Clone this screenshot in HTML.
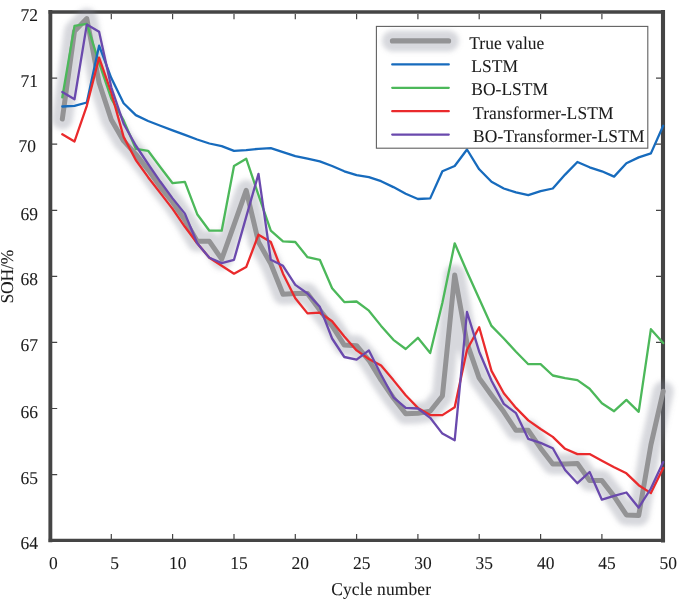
<!DOCTYPE html>
<html><head><meta charset="utf-8"><title>SOH prediction</title>
<style>html,body{margin:0;padding:0;background:#fff}svg{display:block}</style></head>
<body>
<svg width="685" height="599" viewBox="0 0 685 599" text-rendering="geometricPrecision">
<defs><filter id="glow" filterUnits="userSpaceOnUse" x="0" y="0" width="685" height="599"><feGaussianBlur stdDeviation="2.9"/></filter></defs>
<rect width="685" height="599" fill="#fff"/>
<g stroke="#454545" stroke-linecap="square" fill="none"><line x1="50.35" y1="12.0" x2="50.35" y2="540.4" stroke-width="3.9"/><line x1="663" y1="12.0" x2="663" y2="540.4" stroke-width="4.1"/><line x1="50.35" y1="12.0" x2="663" y2="12.0" stroke-width="3.5"/><line x1="50.35" y1="540.4" x2="663" y2="540.4" stroke-width="3.3"/></g>
<path d="M111.3,539 V533.9 M111.3,14 V19.3 M172.6,539 V533.9 M172.6,14 V19.3 M234.0,539 V533.9 M234.0,14 V19.3 M295.3,539 V533.9 M295.3,14 V19.3 M356.6,539 V533.9 M356.6,14 V19.3 M417.9,539 V533.9 M417.9,14 V19.3 M479.2,539 V533.9 M479.2,14 V19.3 M540.6,539 V533.9 M540.6,14 V19.3 M601.9,539 V533.9 M601.9,14 V19.3 M52,474.6 H57.2 M52,408.5 H57.2 M52,342.4 H57.2 M661,342.4 H656 M52,276.4 H57.2 M661,276.4 H656 M52,210.3 H57.2 M661,210.3 H656 M52,144.2 H57.2 M661,144.2 H656 M52,78.1 H57.2 M661,78.1 H656" stroke="#454545" stroke-width="1.2" fill="none"/>
<g font-family="'Liberation Serif', serif" font-size="18px" fill="#1a1a1a" stroke="#1a1a1a" stroke-width="0.08">
<text transform="translate(49.0,568.5) scale(0.97,1)">0</text>
<text transform="translate(110.3,568.5) scale(0.97,1)">5</text>
<text transform="translate(168.9,568.5) scale(0.97,1)">10</text>
<text transform="translate(230.3,568.5) scale(0.97,1)">15</text>
<text transform="translate(291.6,568.5) scale(0.97,1)">20</text>
<text transform="translate(352.9,568.5) scale(0.97,1)">25</text>
<text transform="translate(414.2,568.5) scale(0.97,1)">30</text>
<text transform="translate(475.5,568.5) scale(0.97,1)">35</text>
<text transform="translate(536.9,568.5) scale(0.97,1)">40</text>
<text transform="translate(598.2,568.5) scale(0.97,1)">45</text>
<text transform="translate(659.5,568.5) scale(0.97,1)">50</text>
<text transform="translate(20.6,549.3) scale(0.97,1)">64</text>
<text transform="translate(20.6,483.8) scale(0.97,1)">65</text>
<text transform="translate(20.6,417.5) scale(0.97,1)">66</text>
<text transform="translate(20.6,350.8) scale(0.97,1)">67</text>
<text transform="translate(20.6,285.1) scale(0.97,1)">68</text>
<text transform="translate(20.6,219.6) scale(0.97,1)">69</text>
<text transform="translate(18.6,152.1) scale(0.97,1)">70</text>
<text transform="translate(20.6,87.3) scale(0.97,1)">71</text>
<text transform="translate(20.6,20.9) scale(0.97,1)">72</text>
<text transform="translate(331.2,595.4) scale(0.97,1)" textLength="102.9" lengthAdjust="spacing">Cycle number</text>
<text transform="translate(12.8,303.6) rotate(-90) scale(0.97,1)" textLength="55.7" lengthAdjust="spacing">SOH/%</text>
</g>
<polyline points="62.3,119.1 74.5,31.2 86.8,18.6 99.1,82.7 111.3,119.7 123.6,140.9 135.8,154.1 148.1,169.9 160.4,187.1 172.6,202.3 184.9,220.2 197.2,241.3 209.4,241.3 221.7,259.2 234.0,224.8 246.2,190.4 258.5,242.0 270.8,263.8 283.0,294.2 295.3,293.5 307.5,293.5 319.8,310.1 332.1,325.9 344.3,345.1 356.6,345.7 368.9,360.3 381.1,380.1 393.4,398.0 405.7,413.8 417.9,413.2 430.2,411.2 442.4,396.0 454.7,275.0 467.0,343.1 479.2,378.1 491.5,395.3 503.8,411.8 516.0,430.3 528.3,430.3 540.6,448.2 552.8,464.0 565.1,464.0 577.4,463.4 589.6,480.6 601.9,480.6 614.1,496.4 626.4,514.9 638.7,515.6 650.9,444.9 663.2,391.3" fill="none" stroke="#7f8290" stroke-opacity="0.31" stroke-width="21" stroke-linejoin="round" stroke-linecap="round" filter="url(#glow)"/>
<polyline points="62.3,119.1 74.5,31.2 86.8,18.6 99.1,82.7 111.3,119.7 123.6,140.9 135.8,154.1 148.1,169.9 160.4,187.1 172.6,202.3 184.9,220.2 197.2,241.3 209.4,241.3 221.7,259.2 234.0,224.8 246.2,190.4 258.5,242.0 270.8,263.8 283.0,294.2 295.3,293.5 307.5,293.5 319.8,310.1 332.1,325.9 344.3,345.1 356.6,345.7 368.9,360.3 381.1,380.1 393.4,398.0 405.7,413.8 417.9,413.2 430.2,411.2 442.4,396.0 454.7,275.0 467.0,343.1 479.2,378.1 491.5,395.3 503.8,411.8 516.0,430.3 528.3,430.3 540.6,448.2 552.8,464.0 565.1,464.0 577.4,463.4 589.6,480.6 601.9,480.6 614.1,496.4 626.4,514.9 638.7,515.6 650.9,444.9 663.2,391.3" fill="none" stroke="#939395" stroke-width="5.0" stroke-linejoin="round" stroke-linecap="round"/>
<polyline points="62.3,97.3 74.5,25.9 86.8,23.9 99.1,62.9 111.3,98.6 123.6,120.4 135.8,148.8 148.1,150.8 160.4,167.3 172.6,183.2 184.9,181.8 197.2,214.2 209.4,230.7 221.7,230.7 234.0,166.0 246.2,158.7 258.5,195.1 270.8,230.7 283.0,241.3 295.3,242.0 307.5,257.2 319.8,259.8 332.1,288.2 344.3,302.1 356.6,301.5 368.9,310.7 381.1,325.9 393.4,339.8 405.7,349.0 417.9,337.8 430.2,353.0 442.4,302.8 454.7,243.3 467.0,271.7 479.2,298.8 491.5,325.9 503.8,338.5 516.0,351.7 528.3,364.2 540.6,364.2 552.8,375.5 565.1,378.1 577.4,380.1 589.6,388.7 601.9,403.2 614.1,411.2 626.4,399.9 638.7,411.8 650.9,329.2 663.2,343.1" fill="none" stroke="#4cb85a" stroke-width="2.3" stroke-linejoin="round" stroke-linecap="round"/>
<polyline points="62.3,106.5 74.5,105.8 86.8,102.5 99.1,45.7 111.3,78.1 123.6,103.2 135.8,115.1 148.1,121.0 160.4,125.7 172.6,130.3 184.9,134.9 197.2,139.5 209.4,143.5 221.7,146.2 234.0,150.8 246.2,150.1 258.5,148.8 270.8,148.1 283.0,152.1 295.3,156.1 307.5,158.7 319.8,161.4 332.1,166.0 344.3,171.3 356.6,175.2 368.9,177.2 381.1,181.2 393.4,187.1 405.7,193.7 417.9,199.0 430.2,198.4 442.4,171.3 454.7,166.0 467.0,149.5 479.2,169.3 491.5,181.8 503.8,188.5 516.0,192.4 528.3,195.1 540.6,191.1 552.8,188.5 565.1,174.6 577.4,162.0 589.6,167.3 601.9,171.3 614.1,176.6 626.4,163.3 638.7,157.4 650.9,153.4 663.2,125.7" fill="none" stroke="#176bbd" stroke-width="2.3" stroke-linejoin="round" stroke-linecap="round"/>
<polyline points="62.3,134.3 74.5,141.5 86.8,105.8 99.1,57.6 111.3,92.6 123.6,136.9 135.8,160.0 148.1,177.2 160.4,193.1 172.6,208.9 184.9,226.8 197.2,243.3 209.4,257.8 221.7,265.8 234.0,273.7 246.2,267.1 258.5,234.7 270.8,242.0 283.0,273.7 295.3,298.2 307.5,313.4 319.8,312.7 332.1,321.3 344.3,336.5 356.6,350.4 368.9,359.0 381.1,365.6 393.4,380.1 405.7,395.3 417.9,407.9 430.2,415.1 442.4,415.1 454.7,407.2 467.0,349.7 479.2,327.2 491.5,370.9 503.8,393.3 516.0,407.9 528.3,420.4 540.6,429.0 552.8,436.9 565.1,448.8 577.4,454.1 589.6,454.1 601.9,460.7 614.1,467.3 626.4,473.3 638.7,485.2 650.9,493.1 663.2,468.0" fill="none" stroke="#ea2a2c" stroke-width="2.3" stroke-linejoin="round" stroke-linecap="round"/>
<polyline points="62.3,92.0 74.5,99.2 86.8,24.6 99.1,31.8 111.3,87.3 123.6,123.7 135.8,145.5 148.1,164.0 160.4,181.8 172.6,198.4 184.9,213.6 197.2,243.3 209.4,257.8 221.7,263.1 234.0,259.8 246.2,216.9 258.5,173.9 270.8,259.8 283.0,265.8 295.3,284.9 307.5,293.5 319.8,306.8 332.1,338.5 344.3,357.0 356.6,359.6 368.9,350.4 381.1,374.8 393.4,397.3 405.7,407.9 417.9,408.5 430.2,417.8 442.4,433.6 454.7,440.2 467.0,312.0 479.2,351.7 491.5,380.8 503.8,403.9 516.0,413.2 528.3,438.9 540.6,442.9 552.8,448.2 565.1,470.0 577.4,483.2 589.6,472.0 601.9,499.7 614.1,495.8 626.4,492.5 638.7,507.7 650.9,488.5 663.2,462.1" fill="none" stroke="#6a49ad" stroke-width="2.3" stroke-linejoin="round" stroke-linecap="round"/>
<rect x="376.4" y="26.4" width="271.4" height="121.8" fill="#fff" stroke="#606060" stroke-width="1.1"/>
<line x1="392.5" y1="40.9" x2="448.5" y2="40.9" stroke="#7f8290" stroke-opacity="0.31" stroke-width="21" stroke-linecap="round" filter="url(#glow)"/>
<line x1="392.5" y1="40.9" x2="448.5" y2="40.9" stroke="#939395" stroke-width="5.3" stroke-linecap="round"/>
<line x1="392.2" y1="64.4" x2="448.8" y2="64.4" stroke="#176bbd" stroke-width="2.2" stroke-linecap="round"/>
<line x1="392.2" y1="87.8" x2="448.8" y2="87.8" stroke="#4cb85a" stroke-width="2.2" stroke-linecap="round"/>
<line x1="392.2" y1="111.2" x2="448.8" y2="111.2" stroke="#ea2a2c" stroke-width="2.2" stroke-linecap="round"/>
<line x1="392.2" y1="134.6" x2="448.8" y2="134.6" stroke="#6a49ad" stroke-width="2.2" stroke-linecap="round"/>
<g font-family="'Liberation Serif', serif" font-size="18px" fill="#1a1a1a" stroke="#1a1a1a" stroke-width="0.08">
<text transform="translate(469.2,49.1) scale(0.97,1)" textLength="77.5" lengthAdjust="spacing">True value</text>
<text transform="translate(471.2,72.2) scale(0.97,1)" textLength="48.4" lengthAdjust="spacing">LSTM</text>
<text transform="translate(471.2,95.4) scale(0.97,1)" textLength="79.3" lengthAdjust="spacing">BO-LSTM</text>
<text transform="translate(473.0,119.3) scale(0.97,1)" textLength="144.9" lengthAdjust="spacing">Transformer-LSTM</text>
<text transform="translate(472.9,141.8) scale(0.97,1)" textLength="176.9" lengthAdjust="spacing">BO-Transformer-LSTM</text>
</g>
</svg>
</body></html>
